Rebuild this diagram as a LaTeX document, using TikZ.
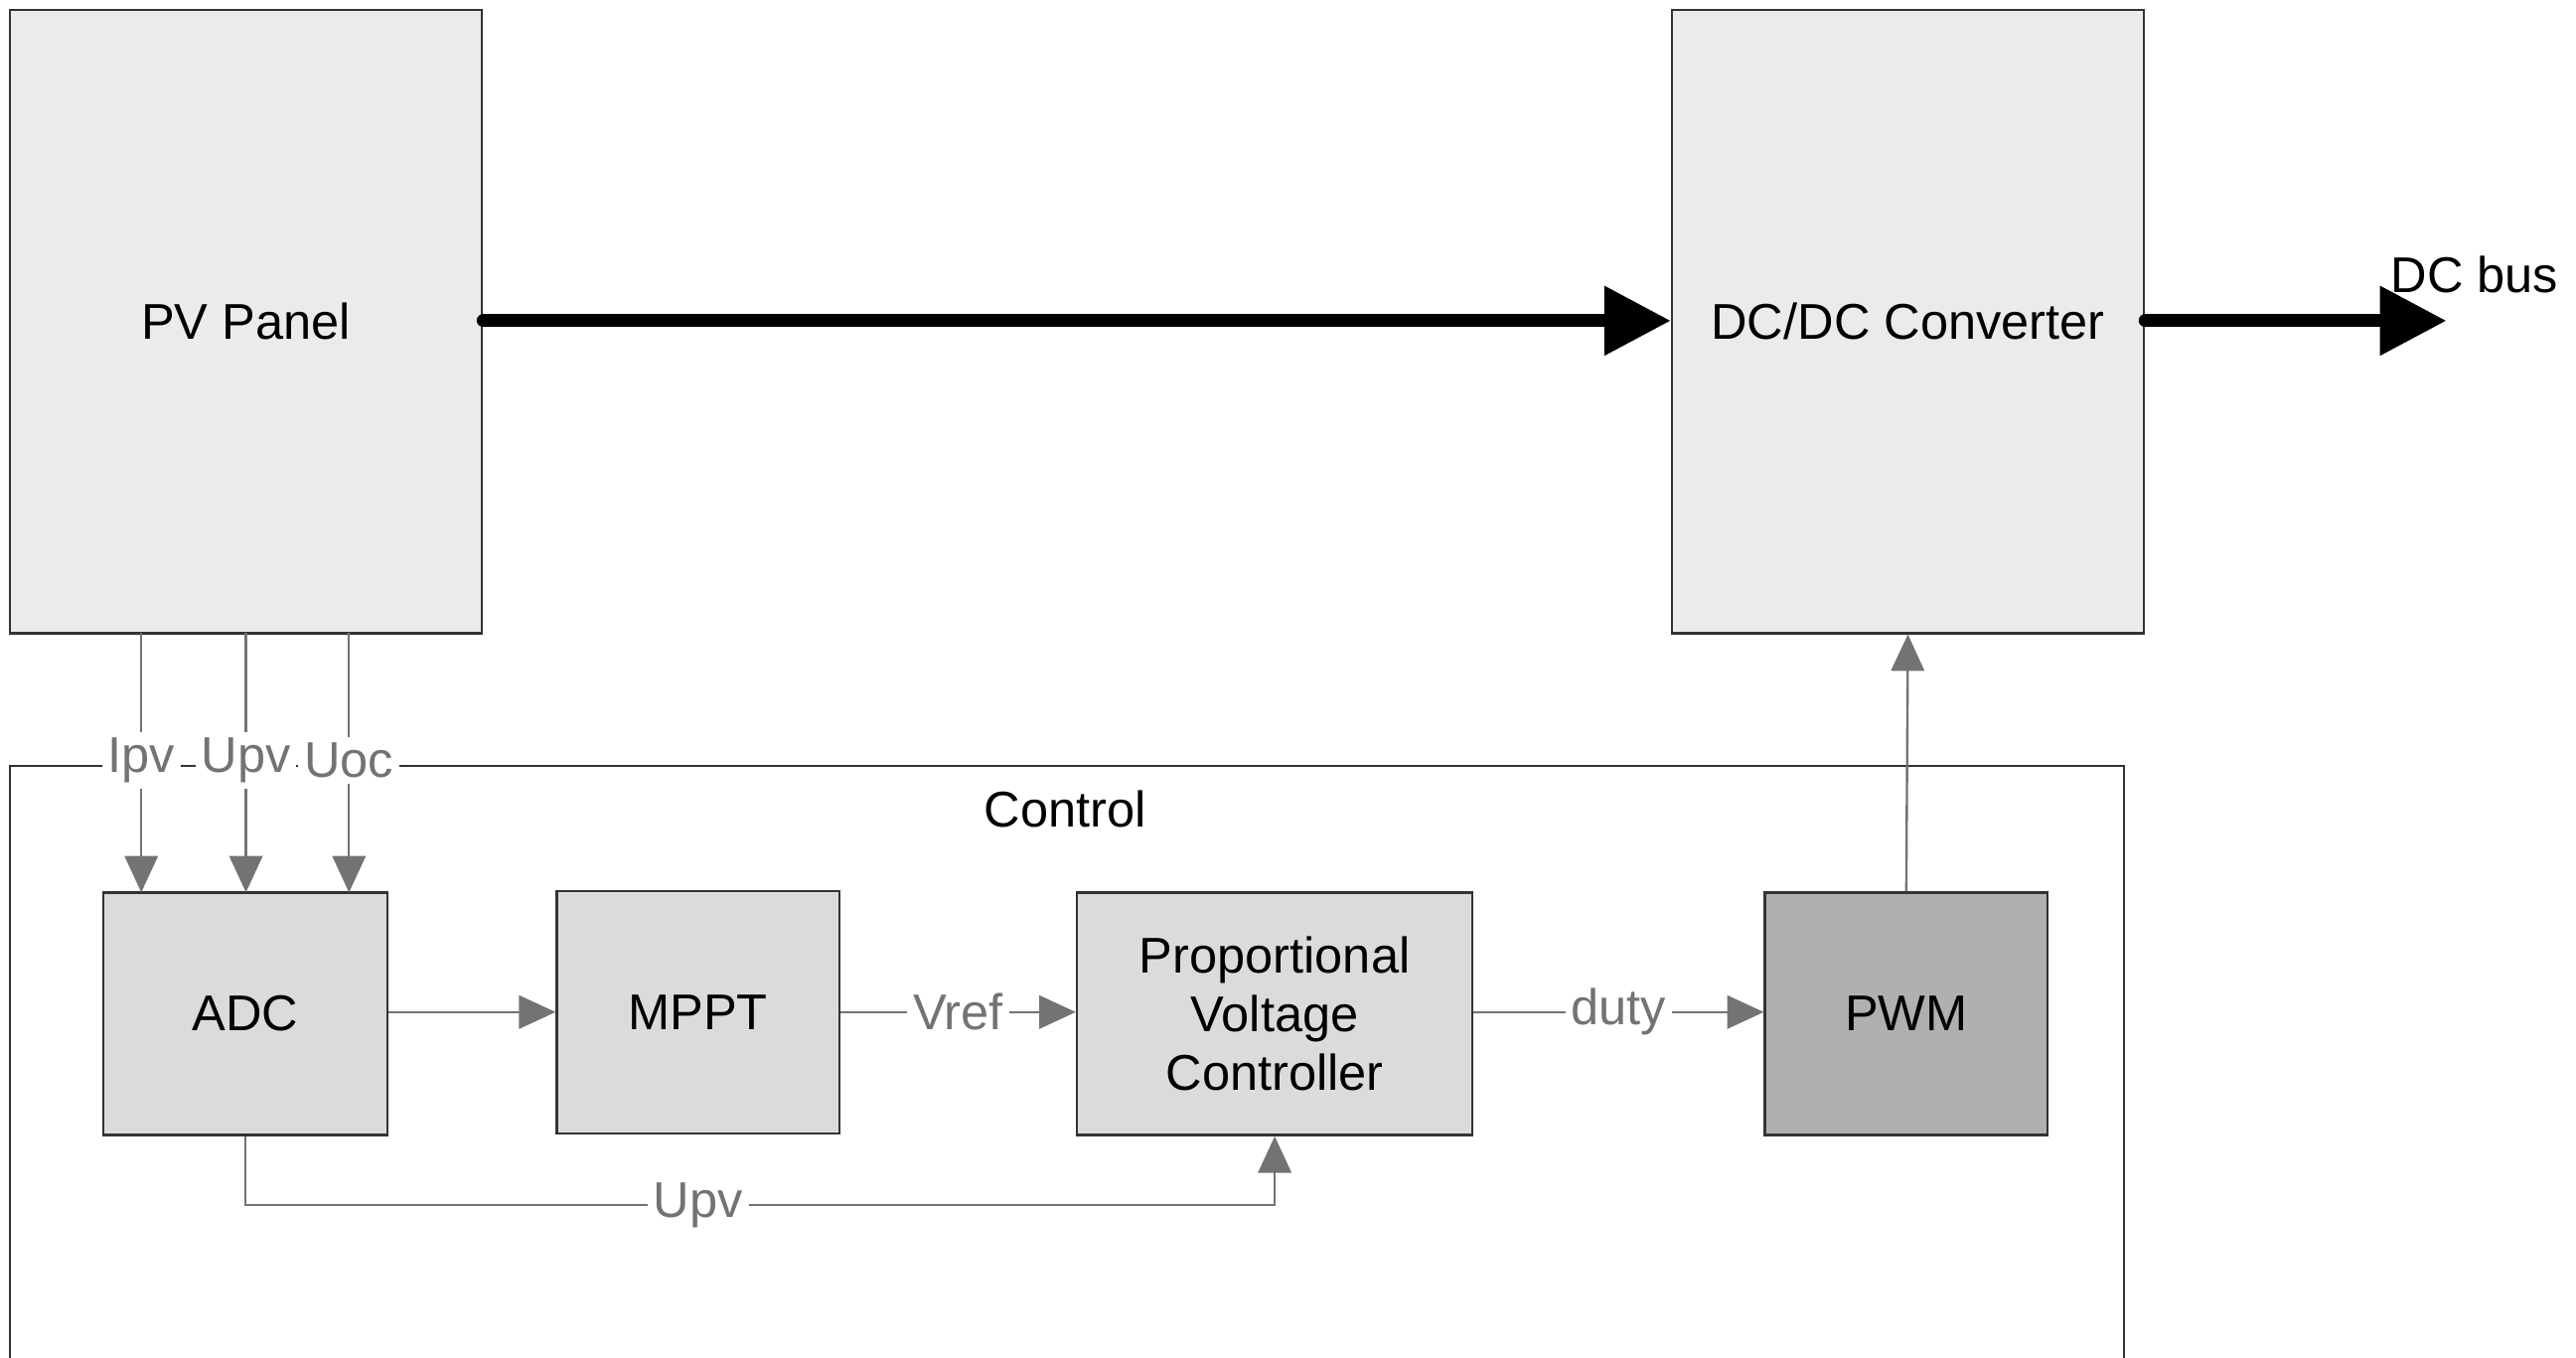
\documentclass[tikz,border=0pt]{standalone}
\usepackage{fontspec}
\setmainfont{Liberation Sans}
\usetikzlibrary{arrows.meta}
\begin{document}
\begin{tikzpicture}[x=0.1mm,y=-0.1mm,font=\fontsize{8.6}{10}\selectfont,
    block/.style={draw=black!80,fill=#1,line width=0.4pt,inner sep=0pt,align=center},
    sig/.style={draw=black!55,line width=0.4pt,-{Triangle[length=2.2mm,width=2mm]},color=black!55},
    power/.style={line width=2.2pt,line cap=round,-{Triangle[length=4mm,width=4mm]}},
    lbl/.style={fill=white,inner sep=1pt}]
    \useasboundingbox (0,0) rectangle (1550,817);
    % main blocks
    \node[block=black!8,minimum width=28.4mm,minimum height=37.5mm] (pv) at (148,193.5) {PV Panel};
    \node[block=black!8,minimum width=28.4mm,minimum height=37.5mm] (dcdc) at (1148,193.5) {DC/DC Converter};
    \coordinate (bus) at (1472,193);
    \node (buslbl) at (1489,165) {DC bus};
    \draw[power] (pv.east |- 0,193) -- (dcdc.west |- 0,193);
    \draw[power] (dcdc.east |- 0,193) -- (bus);
    % control
    \node[draw=black!80,minimum width=127.2mm,minimum height=35.9mm] (ctrl) at (642,640.5) {};
    \node (ctrllbl) at (641,487) {Control};
    \node[block=black!14,minimum width=17.1mm,minimum height=14.6mm] (adc) at (147.5,610) {ADC};
    \node[block=black!14,minimum width=17mm,minimum height=14.6mm] (mppt) at (420,609) {MPPT};
    \node[block=black!14,minimum width=23.8mm,minimum height=14.6mm] (pvc) at (767,610) {Proportional\\Voltage\\Controller};
    \node[block=black!31,minimum width=17mm,minimum height=14.6mm] (pwm) at (1147,610) {PWM};
    % measurements
    \foreach \x/\t in {85/Ipv,148/Upv,210/Uoc}{
        \draw[sig] (\x,381) -- node[lbl,pos=0.49]{\t} (\x,537);
    }
    \draw[sig] (adc.east |- 0,609) -- (mppt.west |- 0,609);
    \draw[sig] (mppt.east |- 0,609) -- node[lbl]{Vref} (pvc.west |- 0,609);
    \draw[sig] (pvc.east |- 0,609) -- node[lbl]{duty} (pwm.west |- 0,609);
    \draw[sig] (pwm.north) -- (dcdc.south);
    \draw[sig] (adc.south) |- node[lbl,pos=0.72]{Upv} (767,725) -- (pvc.south);
\end{tikzpicture}
\end{document}
